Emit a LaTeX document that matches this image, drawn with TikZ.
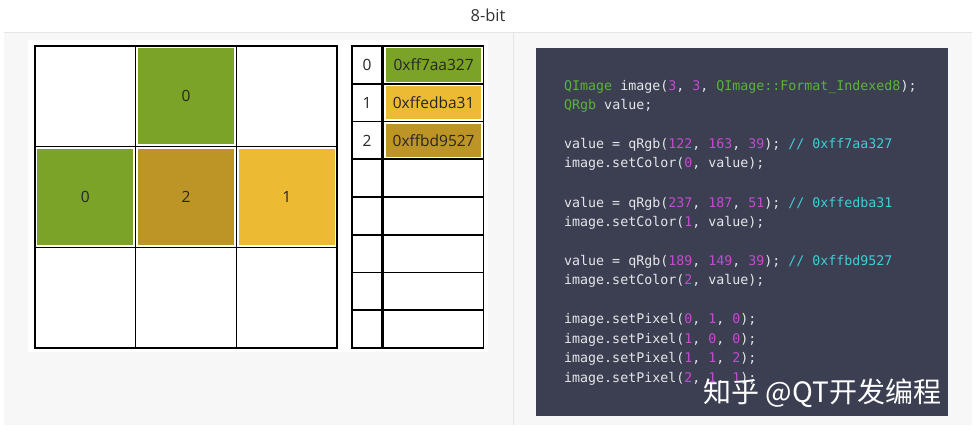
\documentclass[tikz,border=0pt]{standalone}
\usepackage{fontspec}
\setmainfont{Open Sans}
\newfontfamily\codefont{DejaVu Sans Mono}
\newfontfamily\cjk{Noto Sans CJK SC}
\usetikzlibrary{positioning,backgrounds}

\definecolor{pxgreen}{HTML}{7AA327}
\definecolor{pxyellow}{HTML}{EDBB33}
\definecolor{pxbrown}{HTML}{BD9527}
\definecolor{panelbg}{HTML}{F7F7F8}
\definecolor{codebg}{HTML}{3B3F51}
\definecolor{cdtext}{HTML}{E6E6EA}
\definecolor{cdtype}{HTML}{5DB33A}
\definecolor{cdnum}{HTML}{C64AD2}
\definecolor{cdcmt}{HTML}{3ECFD6}

\newcommand{\ty}[1]{\textcolor{cdtype}{#1}}
\newcommand{\nm}[1]{\textcolor{cdnum}{#1}}
\newcommand{\cm}[1]{\textcolor{cdcmt}{#1}}

\begin{document}
\begin{tikzpicture}[x=1pt,y=-1pt]
	% Define custom styles to make the code cleaner and more reusable.
	\tikzset{
		lbl/.style={font=\fontsize{15.5}{15.5}\selectfont, text=black!85},
		cell/.style={draw=black, line width=1.6pt, minimum width=100.7pt, minimum height=100.7pt, inner sep=0pt},
		idx/.style={draw=black, line width=1.6pt, minimum width=30pt, minimum height=37.75pt, inner sep=0pt},
		entry/.style={draw=black, line width=1.6pt, minimum width=100pt, minimum height=37.75pt, inner sep=0pt},
		code/.style={anchor=west, inner sep=0pt, text=cdtext, font=\codefont\fontsize{13.3}{13.3}\selectfont}
	}

	% === BACKGROUND ===
	\begin{scope}[on background layer]
		\fill[white] (0,0) rectangle (976,436);
		\fill[panelbg] (4,32) rectangle (972,425);
		\draw[gray!20] (4,32) -- (972,32);
		\draw[gray!20] (513,32) -- (513,425);
		\fill[white] (28,40) rectangle (488,352);
	\end{scope}
	\useasboundingbox (0,0) rectangle (976,436);
	\node[font=\fontsize{16.5}{16.5}\selectfont, text=black!80] (title) at (488,15) {8-bit};

	% === PIXEL GRID ===
	\foreach \c in {0,1,2}
		\foreach \r in {0,1,2}
			\node[cell] (p\c\r) at ({85.3+100.7*\c},{96.3+100.7*\r}) {};
	\foreach \c/\r/\col/\v in {1/0/pxgreen/0, 0/1/pxgreen/0, 1/1/pxbrown/2, 2/1/pxyellow/1} {
		\begin{scope}[on background layer]
			\fill[\col] ([shift={(3,3)}]p\c\r.north west) rectangle ([shift={(-3,-3)}]p\c\r.south east);
		\end{scope}
		\node[lbl] at (p\c\r) {\v};
	}

	% === COLOUR TABLE ===
	\foreach \r in {0,...,7} {
		\node[idx] (i\r) at (367,{64.9+37.75*\r}) {};
		\node[entry, right=0pt of i\r] (e\r) {};
	}
	\foreach \r/\col/\hex in {0/pxgreen/0xff7aa327, 1/pxyellow/0xffedba31, 2/pxbrown/0xffbd9527} {
		\node[lbl] at (i\r) {\r};
		\begin{scope}[on background layer]
			\fill[\col] ([shift={(3,3)}]e\r.north west) rectangle ([shift={(-3,-3)}]e\r.south east);
		\end{scope}
		\node[lbl] at (e\r) {\hex};
	}

	% === CODE PANEL ===
	\fill[codebg] (536,48) rectangle (948,416);
	\node[code] (l1) at (564,87) {\ty{QImage} image(\nm{3}, \nm{3}, \ty{QImage::Format\_Indexed8});};
	\node[code] (l2) at (564,106) {\ty{QRgb} value;};
	\node[code] (l3) at (564,145) {value = qRgb(\nm{122}, \nm{163}, \nm{39}); \cm{// 0xff7aa327}};
	\node[code] (l4) at (564,164) {image.setColor(\nm{0}, value);};
	\node[code] (l5) at (564,204) {value = qRgb(\nm{237}, \nm{187}, \nm{51}); \cm{// 0xffedba31}};
	\node[code] (l6) at (564,223) {image.setColor(\nm{1}, value);};
	\node[code] (l7) at (564,262) {value = qRgb(\nm{189}, \nm{149}, \nm{39}); \cm{// 0xffbd9527}};
	\node[code] (l8) at (564,281) {image.setColor(\nm{2}, value);};
	\node[code] (l9) at (564,320) {image.setPixel(\nm{0}, \nm{1}, \nm{0});};
	\node[code] (l10) at (564,340) {image.setPixel(\nm{1}, \nm{0}, \nm{0});};
	\node[code] (l11) at (564,359) {image.setPixel(\nm{1}, \nm{1}, \nm{2});};
	\node[code] (l12) at (564,379) {image.setPixel(\nm{2}, \nm{1}, \nm{1});};

	% watermark
	\node[anchor=west, text=white, font=\cjk\fontsize{28}{28}\selectfont] (mark) at (700,393) {知乎 @QT开发编程};
\end{tikzpicture}
\end{document}
